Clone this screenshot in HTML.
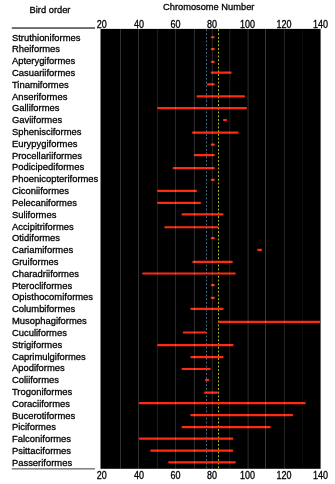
<!DOCTYPE html>
<html><head><meta charset="utf-8"><title>Chromosome number by bird order</title>
<style>
html,body{margin:0;padding:0;background:#fff;width:335px;height:484px;overflow:hidden}
svg{display:block}
text{font-family:"Liberation Sans",Arial,sans-serif;font-size:9.8px;fill:#000;stroke:#000;stroke-width:0.3px}
text.t{font-size:10.15px}
</style></head><body>
<svg width="335" height="484" viewBox="0 0 335 484">
<text transform="matrix(0.949 0 0 1 29.6 12.65)">Bird order</text>
<text transform="matrix(0.949 0 0 1 163 9.7)">Chromosome Number</text>
<rect x="11.8" y="27.2" width="83.2" height="1.7" fill="#5a5a5a"/>
<rect x="11.8" y="468.2" width="83.2" height="1.3" fill="#6a6a6a"/>
<rect x="100.5" y="28.9" width="220.10" height="439.90" fill="#000"/>

<line x1="206.5" y1="28.9" x2="206.5" y2="468.8" stroke="#45687c" stroke-width="1" stroke-dasharray="2 1.735" stroke-dashoffset="3.335"/>
<line x1="218.5" y1="28.9" x2="218.5" y2="468.8" stroke="#b0b82a" stroke-width="1" stroke-dasharray="2 1.735" stroke-dashoffset="3.335"/>
<rect x="210.8" y="36.13" width="4.00" height="2.2" rx="1" fill="#ff2a12"/>
<rect x="210.8" y="48.05" width="4.00" height="2.2" rx="1" fill="#ff2a12"/>
<rect x="210.8" y="60.70" width="4.00" height="2.2" rx="1" fill="#ff2a12"/>
<rect x="210.8" y="71.60" width="20.80" height="2.2" rx="1" fill="#ff2a12"/>
<rect x="207" y="83.35" width="7.80" height="2.2" rx="1" fill="#ff2a12"/>
<rect x="196.5" y="95.20" width="48.50" height="2.2" rx="1" fill="#ff2a12"/>
<rect x="157.2" y="106.95" width="89.80" height="2.2" rx="1" fill="#ff2a12"/>
<rect x="222.9" y="118.90" width="4.20" height="2.2" rx="1" fill="#ff2a12"/>
<rect x="192" y="131.45" width="46.60" height="2.2" rx="1" fill="#ff2a12"/>
<rect x="210.8" y="143.45" width="4.00" height="2.2" rx="1" fill="#ff2a12"/>
<rect x="194" y="154.10" width="20.80" height="2.2" rx="1" fill="#ff2a12"/>
<rect x="172.7" y="167.00" width="42.10" height="2.2" rx="1" fill="#ff2a12"/>
<rect x="210.8" y="178.80" width="4.00" height="2.2" rx="1" fill="#ff2a12"/>
<rect x="157.2" y="189.75" width="39.80" height="2.2" rx="1" fill="#ff2a12"/>
<rect x="157.2" y="201.75" width="43.80" height="2.2" rx="1" fill="#ff2a12"/>
<rect x="181.5" y="213.30" width="42.10" height="2.2" rx="1" fill="#ff2a12"/>
<rect x="164.2" y="226.15" width="54.20" height="2.2" rx="1" fill="#ff2a12"/>
<rect x="210.8" y="236.95" width="4.00" height="2.2" rx="1" fill="#ff2a12"/>
<rect x="257.1" y="248.80" width="5.00" height="2.2" rx="1" fill="#ff2a12"/>
<rect x="192.3" y="260.75" width="40.60" height="2.2" rx="1" fill="#ff2a12"/>
<rect x="142.1" y="272.40" width="93.80" height="2.2" rx="1" fill="#ff2a12"/>
<rect x="210.8" y="283.95" width="4.00" height="2.2" rx="1" fill="#ff2a12"/>
<rect x="210.8" y="296.70" width="4.00" height="2.2" rx="1" fill="#ff2a12"/>
<rect x="190.3" y="307.75" width="33.30" height="2.2" rx="1" fill="#ff2a12"/>
<rect x="218.4" y="320.70" width="102.00" height="2.2" rx="1" fill="#ff2a12"/>
<rect x="182.7" y="331.40" width="23.90" height="2.2" rx="1" fill="#ff2a12"/>
<rect x="157.2" y="344.05" width="76.40" height="2.2" rx="1" fill="#ff2a12"/>
<rect x="190.3" y="356.00" width="33.30" height="2.2" rx="1" fill="#ff2a12"/>
<rect x="181.5" y="367.90" width="29.30" height="2.2" rx="1" fill="#ff2a12"/>
<rect x="205" y="378.70" width="4.10" height="2.2" rx="1" fill="#ff2a12"/>
<rect x="204.0" y="391.45" width="14.30" height="2.2" rx="1" fill="#ff2a12"/>
<rect x="138.9" y="402.00" width="166.80" height="2.2" rx="1" fill="#ff2a12"/>
<rect x="190.3" y="414.00" width="102.90" height="2.2" rx="1" fill="#ff2a12"/>
<rect x="181.5" y="426.00" width="89.30" height="2.2" rx="1" fill="#ff2a12"/>
<rect x="138.9" y="437.55" width="94.50" height="2.2" rx="1" fill="#ff2a12"/>
<rect x="150.2" y="449.50" width="83.20" height="2.2" rx="1" fill="#ff2a12"/>
<rect x="168.2" y="461.25" width="67.70" height="2.2" rx="1" fill="#ff2a12"/>
<line x1="120.5" y1="28.9" x2="120.5" y2="468.8" stroke="#fff" stroke-opacity="0.19" stroke-width="1"/>
<line x1="138.5" y1="28.9" x2="138.5" y2="468.8" stroke="#fff" stroke-opacity="0.19" stroke-width="1"/>
<line x1="157.4" y1="28.9" x2="157.4" y2="468.8" stroke="#fff" stroke-opacity="0.12" stroke-width="1"/>
<line x1="175.5" y1="28.9" x2="175.5" y2="468.8" stroke="#fff" stroke-opacity="0.16" stroke-width="1"/>
<line x1="194.4" y1="28.9" x2="194.4" y2="468.8" stroke="#fff" stroke-opacity="0.19" stroke-width="1"/>
<line x1="212.3" y1="28.9" x2="212.3" y2="468.8" stroke="#fff" stroke-opacity="0.17" stroke-width="1"/>
<line x1="229.8" y1="28.9" x2="229.8" y2="468.8" stroke="#fff" stroke-opacity="0.13" stroke-width="1"/>
<line x1="248.1" y1="28.9" x2="248.1" y2="468.8" stroke="#fff" stroke-opacity="0.19" stroke-width="1"/>
<line x1="265.5" y1="28.9" x2="265.5" y2="468.8" stroke="#fff" stroke-opacity="0.22" stroke-width="1"/>
<line x1="284.4" y1="28.9" x2="284.4" y2="468.8" stroke="#fff" stroke-opacity="0.15" stroke-width="1"/>
<line x1="302.5" y1="28.9" x2="302.5" y2="468.8" stroke="#fff" stroke-opacity="0.045" stroke-width="1"/>
<text class="t" transform="matrix(0.8867 0 0 1 101.8 28.0)" text-anchor="middle">20</text>
<text class="t" transform="matrix(0.8867 0 0 1 101.8 478.9)" text-anchor="middle">20</text>
<text class="t" transform="matrix(0.8867 0 0 1 138.9 28.0)" text-anchor="middle">40</text>
<text class="t" transform="matrix(0.8867 0 0 1 138.9 478.9)" text-anchor="middle">40</text>
<text class="t" transform="matrix(0.8867 0 0 1 175.5 28.0)" text-anchor="middle">60</text>
<text class="t" transform="matrix(0.8867 0 0 1 175.5 478.9)" text-anchor="middle">60</text>
<text class="t" transform="matrix(0.8867 0 0 1 212.1 28.0)" text-anchor="middle">80</text>
<text class="t" transform="matrix(0.8867 0 0 1 212.1 478.9)" text-anchor="middle">80</text>
<text class="t" transform="matrix(0.8867 0 0 1 247.6 28.0)" text-anchor="middle">100</text>
<text class="t" transform="matrix(0.8867 0 0 1 247.6 478.9)" text-anchor="middle">100</text>
<text class="t" transform="matrix(0.8867 0 0 1 284.1 28.0)" text-anchor="middle">120</text>
<text class="t" transform="matrix(0.8867 0 0 1 284.1 478.9)" text-anchor="middle">120</text>
<text class="t" transform="matrix(0.8867 0 0 1 320.5 28.0)" text-anchor="middle">140</text>
<text class="t" transform="matrix(0.8867 0 0 1 320.5 478.9)" text-anchor="middle">140</text>
<text transform="matrix(0.9622 0 0 1 11.9 40.50)">Struthioniformes</text>
<text transform="matrix(0.9622 0 0 1 11.9 52.31)">Rheiformes</text>
<text transform="matrix(0.9622 0 0 1 11.9 64.13)">Apterygiformes</text>
<text transform="matrix(0.9622 0 0 1 11.9 75.94)">Casuariiformes</text>
<text transform="matrix(0.9622 0 0 1 11.9 87.76)">Tinamiformes</text>
<text transform="matrix(0.9622 0 0 1 11.9 99.57)">Anseriformes</text>
<text transform="matrix(0.9622 0 0 1 11.9 111.39)">Galliformes</text>
<text transform="matrix(0.9622 0 0 1 11.9 123.20)">Gaviiformes</text>
<text transform="matrix(0.9622 0 0 1 11.9 135.02)">Sphenisciformes</text>
<text transform="matrix(0.9622 0 0 1 11.9 146.83)">Eurypygiformes</text>
<text transform="matrix(0.9622 0 0 1 11.9 158.65)">Procellariiformes</text>
<text transform="matrix(0.9622 0 0 1 11.9 170.47)">Podicipediformes</text>
<text transform="matrix(0.9622 0 0 1 11.9 182.28)">Phoenicopteriformes</text>
<text transform="matrix(0.9622 0 0 1 11.9 194.09)">Ciconiiformes</text>
<text transform="matrix(0.9622 0 0 1 11.9 205.91)">Pelecaniformes</text>
<text transform="matrix(0.9622 0 0 1 11.9 217.72)">Suliformes</text>
<text transform="matrix(0.9622 0 0 1 11.9 229.54)">Accipitriformes</text>
<text transform="matrix(0.9622 0 0 1 11.9 241.35)">Otidiformes</text>
<text transform="matrix(0.9622 0 0 1 11.9 253.17)">Cariamiformes</text>
<text transform="matrix(0.9622 0 0 1 11.9 264.99)">Gruiformes</text>
<text transform="matrix(0.9622 0 0 1 11.9 276.80)">Charadriiformes</text>
<text transform="matrix(0.9622 0 0 1 11.9 288.62)">Pterocliformes</text>
<text transform="matrix(0.9622 0 0 1 11.9 300.43)">Opisthocomiformes</text>
<text transform="matrix(0.9622 0 0 1 11.9 312.25)">Columbiformes</text>
<text transform="matrix(0.9622 0 0 1 11.9 324.06)">Musophagiformes</text>
<text transform="matrix(0.9622 0 0 1 11.9 335.88)">Cuculiformes</text>
<text transform="matrix(0.9622 0 0 1 11.9 347.69)">Strigiformes</text>
<text transform="matrix(0.9622 0 0 1 11.9 359.50)">Caprimulgiformes</text>
<text transform="matrix(0.9622 0 0 1 11.9 371.32)">Apodiformes</text>
<text transform="matrix(0.9622 0 0 1 11.9 383.13)">Coliiformes</text>
<text transform="matrix(0.9622 0 0 1 11.9 394.95)">Trogoniformes</text>
<text transform="matrix(0.9622 0 0 1 11.9 406.76)">Coraciiformes</text>
<text transform="matrix(0.9622 0 0 1 11.9 418.58)">Bucerotiformes</text>
<text transform="matrix(0.9622 0 0 1 11.9 430.39)">Piciformes</text>
<text transform="matrix(0.9622 0 0 1 11.9 442.21)">Falconiformes</text>
<text transform="matrix(0.9622 0 0 1 11.9 454.02)">Psittaciformes</text>
<text transform="matrix(0.9622 0 0 1 11.9 465.84)">Passeriformes</text>
</svg></body></html>
